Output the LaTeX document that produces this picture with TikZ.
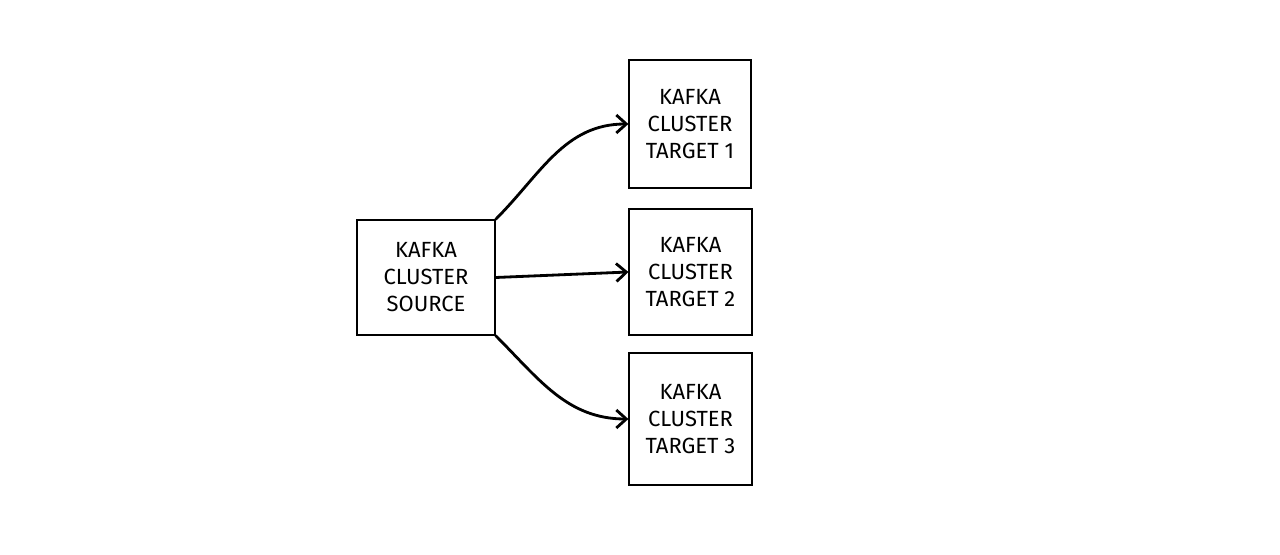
\documentclass[tikz,border=0pt]{standalone}
\usepackage{fontspec}
\setmainfont{Fira Sans}
\usepackage{tikz}
\usetikzlibrary{arrows.meta,positioning,calc}

\tikzset{
  cluster/.style={draw, line width=0.7pt, inner sep=0pt, align=center,
    font=\fontsize{12.5}{15.4}\selectfont},
}

\begin{document}
\begin{tikzpicture}[x=0.02cm, y=0.02cm, >={Straight Barb[length=2mm,width=3.6mm]}]
          \useasboundingbox (0,0) rectangle (1280,554);
          % source and target clusters with absolute coordinates
          \node[cluster, minimum width=2.76cm, minimum height=2.3cm] (src) at (426,276.5) {KAFKA\\CLUSTER\\SOURCE};
          \node[cluster, minimum width=2.44cm, minimum height=2.56cm] (t1) at (690,430) {KAFKA\\CLUSTER\\TARGET 1};
          \node[cluster, minimum width=2.46cm, minimum height=2.52cm] (t2) at (690.5,282) {KAFKA\\CLUSTER\\TARGET 2};
          \node[cluster, minimum width=2.46cm, minimum height=2.64cm] (t3) at (690.5,135) {KAFKA\\CLUSTER\\TARGET 3};
          % Directed edges
          \draw [->, line width=1.6pt] (src.north east) to[out=45, in=180] (t1.west);
          \draw [->, line width=1.6pt] (src.east) -- (t2.west);
          \draw [->, line width=1.6pt] (src.south east) to[out=-45, in=180] (t3.west);
        \end{tikzpicture}
\end{document}
